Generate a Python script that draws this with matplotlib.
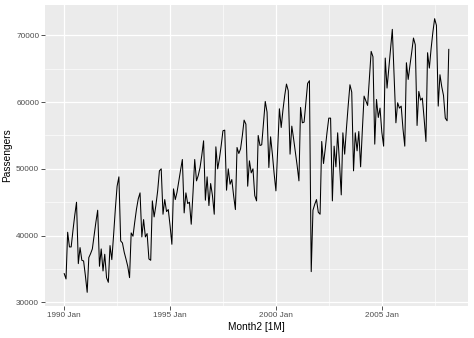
import matplotlib
matplotlib.use("Agg")
import matplotlib.pyplot as plt
import matplotlib.dates as mdates
import pandas as pd

# monthly passengers, 1990 Jan .. 2008 Mar
passengers = [
    34300, 33500, 40500, 38300, 38300, 40800, 43000, 45000, 35800, 38200, 36300, 36200,  # 1990
    34000, 31500, 36700, 37300, 38000, 40000, 42000, 43800, 35400, 38000, 34700, 37200,  # 1991
    33700, 33000, 38500, 36400, 40000, 44000, 47400, 48800, 39200, 38900, 37500, 36500,  # 1992
    35400, 33700, 40400, 39900, 42000, 44000, 45500, 46400, 39800, 42400, 39800, 40300,  # 1993
    36500, 36300, 45200, 42800, 44500, 46700, 49700, 50000, 43200, 45400, 43600, 43900,  # 1994
    41500, 38700, 47000, 45400, 46500, 48200, 49800, 51400, 43400, 46400, 44800, 45000,  # 1995
    41700, 46500, 51400, 48200, 49000, 50200, 52000, 54200, 45300, 48800, 44500, 47800,  # 1996
    46000, 43200, 53300, 50000, 51500, 53500, 55700, 55800, 46800, 50000, 47700, 48400,  # 1997
    46000, 43900, 53200, 52300, 53000, 55000, 57300, 56700, 47400, 51200, 49400, 50000,  # 1998
    46000, 45200, 55000, 53500, 53600, 57000, 60100, 58500, 50200, 54800, 52200, 49300,  # 1999
    46700, 53000, 59000, 56200, 58800, 61000, 62700, 61700, 52200, 56400, 54500, 52500,  # 2000
    50500, 48200, 59200, 56900, 57000, 60000, 62800, 63200, 34600, 43800, 44700, 45400,  # 2001
    43500, 43200, 54100, 50800, 53000, 55500, 57600, 57600, 45200, 53400, 50300, 55400,  # 2002
    51000, 46100, 55400, 52200, 56000, 59500, 62600, 61500, 49700, 55400, 52700, 55600,  # 2003
    50300, 56000, 60900, 60200, 59500, 63500, 67600, 66800, 53700, 60400, 57700, 59100,  # 2004
    55500, 53400, 66600, 62100, 65000, 68000, 70900, 63900, 56900, 59900, 59100, 59400,  # 2005
    56000, 53400, 65900, 63400, 65500, 67500, 69600, 68600, 56500, 61600, 60300, 60600,  # 2006
    57500, 54100, 67400, 65100, 68000, 70500, 72500, 71500, 59400, 64100, 62300, 61000,  # 2007
    57600, 57200, 67900,                                                                  # 2008
]
months = pd.date_range("1990-01-01", periods=len(passengers), freq="MS")

x_breaks = pd.to_datetime(["1990-01-01", "1995-01-01", "2000-01-01", "2005-01-01"])
x_minor = pd.to_datetime(["1992-07-01", "1997-07-01", "2002-07-01", "2007-07-01"])
x_labels = ["1990 Jan", "1995 Jan", "2000 Jan", "2005 Jan"]
y_breaks = [30000, 40000, 50000, 60000, 70000]
y_minor = [35000, 45000, 55000, 65000]

plt.rcParams["font.family"] = ["Liberation Sans", "DejaVu Sans"]

fig = plt.figure(figsize=(4.74, 3.38), dpi=100)
ax = fig.add_axes([45 / 474, 1 - 306 / 338, 423 / 474, 301 / 338])
ax.set_facecolor("#EBEBEB")

ax.plot(months, passengers, color="black", lw=0.75, zorder=3)

# 5% padding on both axes, like ggplot's default expansion
xn = mdates.date2num(months)
xr = xn[-1] - xn[0]
ax.set_xlim(xn[0] - 0.05 * xr, xn[-1] + 0.05 * xr)
yr = max(passengers) - min(passengers)
ax.set_ylim(min(passengers) - 0.05 * yr, max(passengers) + 0.05 * yr)

ax.set_xticks(mdates.date2num(x_breaks))
ax.set_xticklabels(x_labels)
ax.set_xticks(mdates.date2num(x_minor), minor=True)
ax.set_yticks(y_breaks)
ax.set_yticklabels([str(v) for v in y_breaks])
ax.set_yticks(y_minor, minor=True)

ax.grid(which="major", color="white", lw=0.9)
ax.grid(which="minor", color="white", lw=0.45)
ax.set_axisbelow(True)
for s in ax.spines.values():
    s.set_visible(False)

ax.tick_params(which="major", length=2.7, width=0.6, color="#333333",
               labelsize=5.9, labelcolor="#4D4D4D", pad=1.5)
ax.tick_params(which="minor", length=0)

ax.set_xlabel("Month2 [1M]", fontsize=7.3, color="black", labelpad=2)
ax.set_ylabel("Passengers", fontsize=7.3, color="black", labelpad=3)

fig.savefig("out.png", dpi=100, facecolor="white")
